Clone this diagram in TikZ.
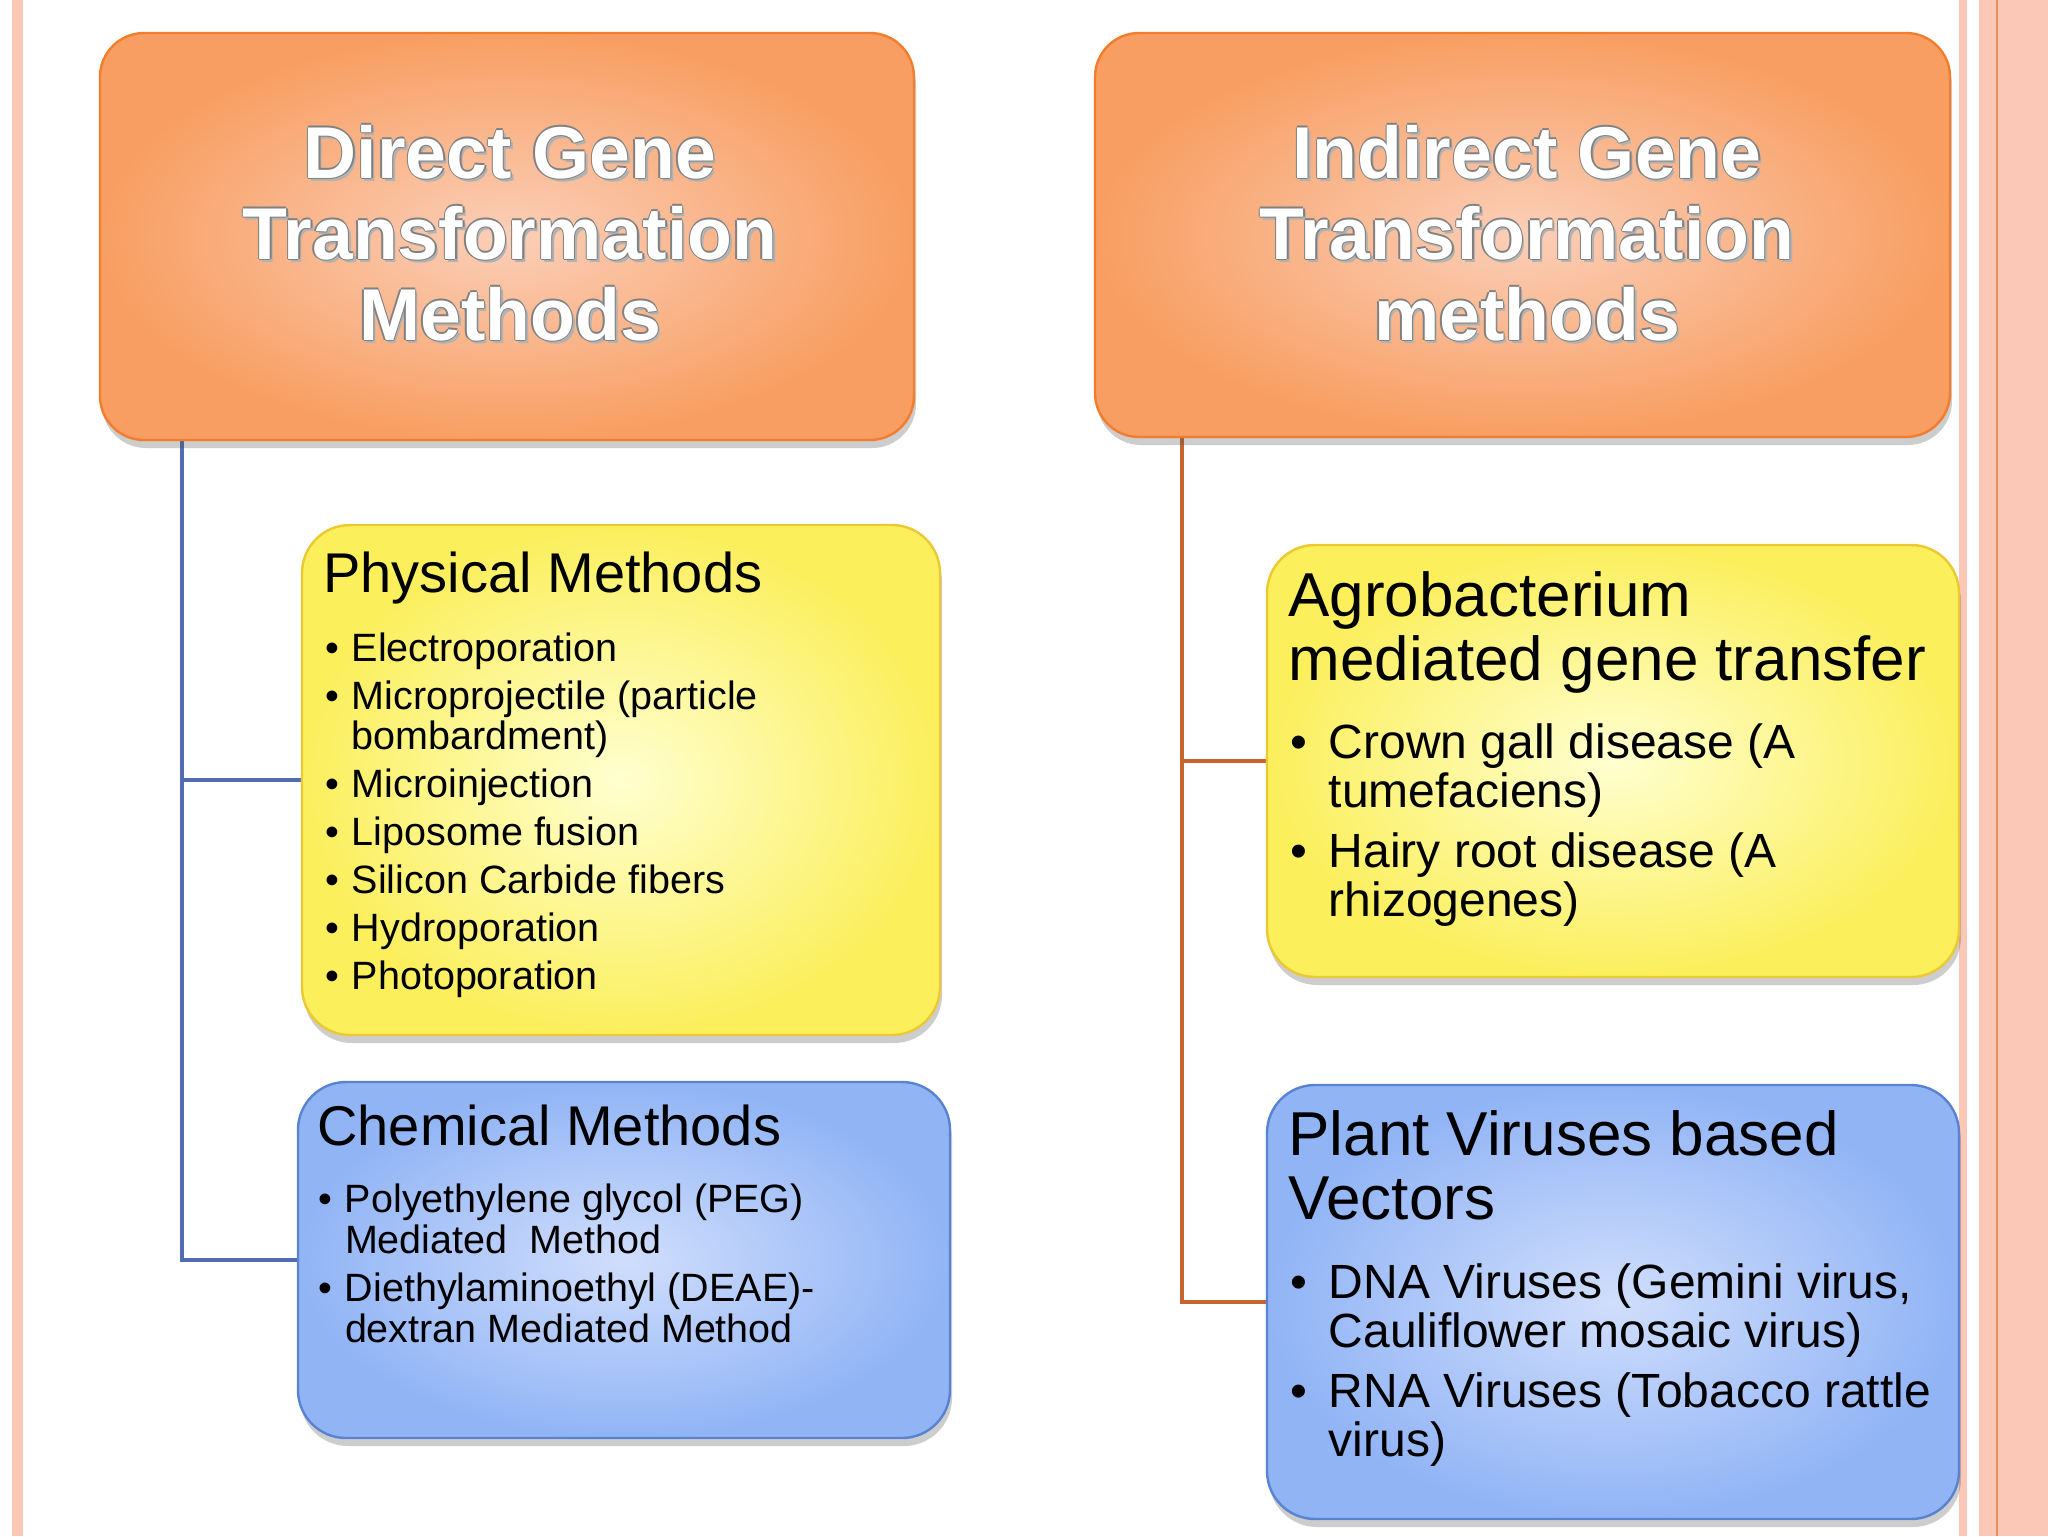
\documentclass[tikz,border=0pt]{standalone}
\usepackage{fontspec}
\setmainfont{Liberation Sans}
\usetikzlibrary{shadows}
\definecolor{pinkst}{RGB}{251,200,183}
\definecolor{orline}{RGB}{238,140,95}
\definecolor{orin}{RGB}{251,207,184}
\definecolor{orout}{RGB}{248,158,98}
\definecolor{orborder}{RGB}{242,125,45}
\definecolor{yein}{RGB}{255,255,208}
\definecolor{yeout}{RGB}{251,239,92}
\definecolor{yeborder}{RGB}{236,200,50}
\definecolor{blin}{RGB}{208,222,252}
\definecolor{blout}{RGB}{145,180,245}
\definecolor{blborder}{RGB}{88,130,210}
\definecolor{bcon}{RGB}{80,110,175}
\definecolor{ocon}{RGB}{200,100,45}
\pgfdeclarelayer{bg}
\pgfsetlayers{bg,main}
\newcommand\gtitle[1]{%
  \fontsize{36.7}{40.5}\selectfont\bfseries
  \def\gtx{\begin{tabular}{@{}c@{}}#1\end{tabular}}%
  \makebox[0pt][l]{\hspace*{1.4pt}\raisebox{-1.8pt}{\color{black!30}\gtx}}%
  \makebox[0pt][l]{\hspace*{-0.7pt}\color{black!50}\gtx}%
  \makebox[0pt][l]{\hspace*{0.7pt}\color{black!50}\gtx}%
  \makebox[0pt][l]{\raisebox{0.7pt}{\color{black!50}\gtx}}%
  \makebox[0pt][l]{\raisebox{-0.7pt}{\color{black!50}\gtx}}%
  {\color{white}\gtx}}
\newcommand\itm[3]{\par\hangindent=#1\hangafter=1\noindent\makebox[#1][l]{\hspace*{#2}\textbullet}#3}
\tikzset{
  panel/.style={inner sep=0pt, line width=1.2pt,
    drop shadow={shadow xshift=1pt, shadow yshift=-4pt, opacity=0.28, fill=black!70}},
  orbox/.style={panel, rounded corners=22pt, draw=orborder, inner color=orin, outer color=orout},
  yebox/.style={panel, rounded corners=24pt, draw=yeborder, inner color=yein, outer color=yeout},
  blbox/.style={panel, rounded corners=24pt, draw=blborder, inner color=blin, outer color=blout},
  bline/.style={draw=bcon, line width=2pt},
  oline/.style={draw=ocon, line width=2pt},
  txt/.style={inner sep=0pt, anchor=base west}
}
\begin{document}
\begin{tikzpicture}[x=0.5pt,y=-0.5pt]
\useasboundingbox (0,0) rectangle (2048,1536);
\begin{pgfonlayer}{bg}
\fill[white] (0,0) rectangle (2048,1536);
\fill[pinkst] (12,0) rectangle (23,1536);
\fill[pinkst] (1959,0) rectangle (1967,1536);
\fill[pinkst] (1979,0) rectangle (2048,1536);
\draw[orline, line width=0.8pt] (1997,0) -- (1997,1536);
\end{pgfonlayer}

% boxes
\node[orbox, minimum width=407pt, minimum height=203.5pt] (dgt) at (507,236.5) {};
\node[orbox, minimum width=427.5pt, minimum height=202pt] (igt) at (1522.5,235) {};
\node[yebox, minimum width=319pt, minimum height=255pt] (phys) at (621,780) {};
\node[blbox, minimum width=326pt, minimum height=178pt] (chem) at (624,1260) {};
\node[yebox, minimum width=346pt, minimum height=216pt] (agro) at (1613,761) {};
\node[blbox, minimum width=346pt, minimum height=217pt] (plant) at (1613,1302) {};

% connectors
\coordinate (lv) at (182,0);
\coordinate (rv) at (1182,0);
\begin{pgfonlayer}{bg}
\draw[bline] (dgt.south -| lv) |- (phys.west);
\draw[bline] (dgt.south -| lv) |- (chem.west);
\draw[oline] (igt.south -| rv) |- (agro.west);
\draw[oline] (igt.south -| rv) |- (plant.west);
\end{pgfonlayer}

% titles
\node[inner sep=0pt] (dgt-t) at (510,244) {\gtitle{Direct Gene\\Transformation\\Methods}};
\node[inner sep=0pt] (igt-t) at (1527,244) {\gtitle{Indirect Gene\\Transformation\\methods}};

% physical
\node[txt] (phys-t) at (323,592) {\begin{minipage}[t]{300pt}\raggedright\lineskiplimit=-100pt
{\fontsize{28}{28}\selectfont Physical Methods\par}
\vspace{10.5pt}
\fontsize{19.75}{20}\selectfont\parskip=4pt
\itm{14.2pt}{1pt}{Electroporation}
\itm{14.2pt}{1pt}{Microprojectile (particle\newline bombardment)}
\itm{14.2pt}{1pt}{Microinjection}
\itm{14.2pt}{1pt}{Liposome fusion}
\itm{14.2pt}{1pt}{Silicon Carbide fibers}
\itm{14.2pt}{1pt}{Hydroporation}
\itm{14.2pt}{1pt}{Photoporation}\par
\end{minipage}};

% chemical
\node[txt] (chem-t) at (317,1145) {\begin{minipage}[t]{310pt}\raggedright\lineskiplimit=-100pt
{\fontsize{28}{28}\selectfont Chemical Methods\par}
\vspace{9.5pt}
\fontsize{19.75}{20.5}\selectfont\parskip=3.5pt
\itm{13.8pt}{0.5pt}{Polyethylene glycol (PEG)\newline Mediated\ \ Method}
\itm{13.8pt}{0.5pt}{Diethylaminoethyl (DEAE)-\newline dextran Mediated Method}\par
\end{minipage}};

% agrobacterium
\node[txt] (agro-t) at (1288,616) {\begin{minipage}[t]{340pt}\raggedright\lineskiplimit=-100pt
{\fontsize{31}{32}\selectfont Agrobacterium\newline mediated gene transfer\par}
\vspace{9pt}
\fontsize{24}{24.5}\selectfont\parskip=5.5pt
\itm{20.2pt}{1.2pt}{Crown gall disease (A\newline tumefaciens)}
\itm{20.2pt}{1.2pt}{Hairy root disease (A\newline rhizogenes)}\par
\end{minipage}};

% plant viruses
\node[txt] (plant-t) at (1288,1155) {\begin{minipage}[t]{340pt}\raggedright\lineskiplimit=-100pt
{\fontsize{31}{32}\selectfont Plant Viruses based\newline Vectors\par}
\vspace{9.5pt}
\fontsize{24}{24.5}\selectfont\parskip=5.5pt
\itm{20.2pt}{1.2pt}{DNA Viruses (Gemini virus,\newline Cauliflower mosaic virus)}
\itm{20.2pt}{1.2pt}{RNA Viruses (Tobacco rattle\newline virus)}\par
\end{minipage}};
\end{tikzpicture}
\end{document}
